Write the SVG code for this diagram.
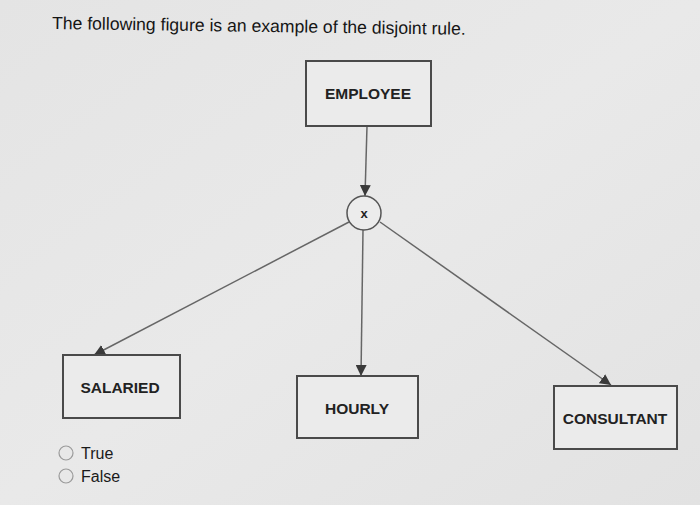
<svg xmlns="http://www.w3.org/2000/svg" width="700" height="505" viewBox="0 0 700 505">
<defs>
<linearGradient id="bg" x1="0" y1="0" x2="1" y2="1">
<stop offset="0" stop-color="#e4e4e4"/>
<stop offset="0.5" stop-color="#e9e9e9"/>
<stop offset="1" stop-color="#e2e2e2"/>
</linearGradient>
<marker id="arr" viewBox="0 0 10 10" refX="10" refY="5" markerWidth="11" markerHeight="11" markerUnits="userSpaceOnUse" orient="auto">
<path d="M0,0 L10,5 L0,10 z" fill="#3a3a3a"/>
</marker>
</defs>
<style>
.box{fill:#ebebeb;stroke:#4a4a4a;stroke-width:2}
.lbl{font-family:"Liberation Sans",Arial,sans-serif;font-weight:bold;font-size:15.5px;fill:#222;text-anchor:middle}
.conn{stroke:#666;stroke-width:1.5;fill:none}
.txt{font-family:"Liberation Sans",Arial,sans-serif;font-size:16px;fill:#1a1a1a}
.title{font-family:"Liberation Sans",Arial,sans-serif;font-size:17.6px;fill:#151515}
.radio{fill:#e8e8e8;stroke:#9a9a9a;stroke-width:1.2}
</style>
<rect width="700" height="505" fill="url(#bg)"/>
<text class="title" x="52" y="29" transform="rotate(0.8 52 29)">The following figure is an example of the disjoint rule.</text>
<g id="connectors">
<line class="conn" x1="367" y1="126" x2="365" y2="196" marker-end="url(#arr)"/>
<line class="conn" x1="349" y1="222" x2="94" y2="355" marker-end="url(#arr)"/>
<line class="conn" x1="363" y1="230" x2="361" y2="376" marker-end="url(#arr)"/>
<line class="conn" x1="380" y1="222" x2="611" y2="385" marker-end="url(#arr)"/>
</g>
<g id="employee">
<rect class="box" x="306" y="61" width="125" height="65"/>
<text class="lbl" x="368" y="99">EMPLOYEE</text>
</g>
<g id="disjoint">
<circle cx="364" cy="213" r="17" fill="#ececec" stroke="#555" stroke-width="1.5"/>
<text class="lbl" x="364" y="218" style="font-size:13px">x</text>
</g>
<g id="salaried">
<rect class="box" x="63" y="355" width="117" height="63"/>
<text class="lbl" x="120" y="393">SALARIED</text>
</g>
<g id="hourly">
<rect class="box" x="297" y="376" width="121" height="62"/>
<text class="lbl" x="357" y="414">HOURLY</text>
</g>
<g id="consultant">
<rect class="box" x="554" y="386" width="123" height="63"/>
<text class="lbl" x="615" y="424">CONSULTANT</text>
</g>
<g id="options">
<circle class="radio" cx="66" cy="453" r="7"/>
<circle class="radio" cx="66" cy="476" r="7"/>
<text class="txt" x="81" y="459">True</text>
<text class="txt" x="81" y="482">False</text>
</g>
</svg>
